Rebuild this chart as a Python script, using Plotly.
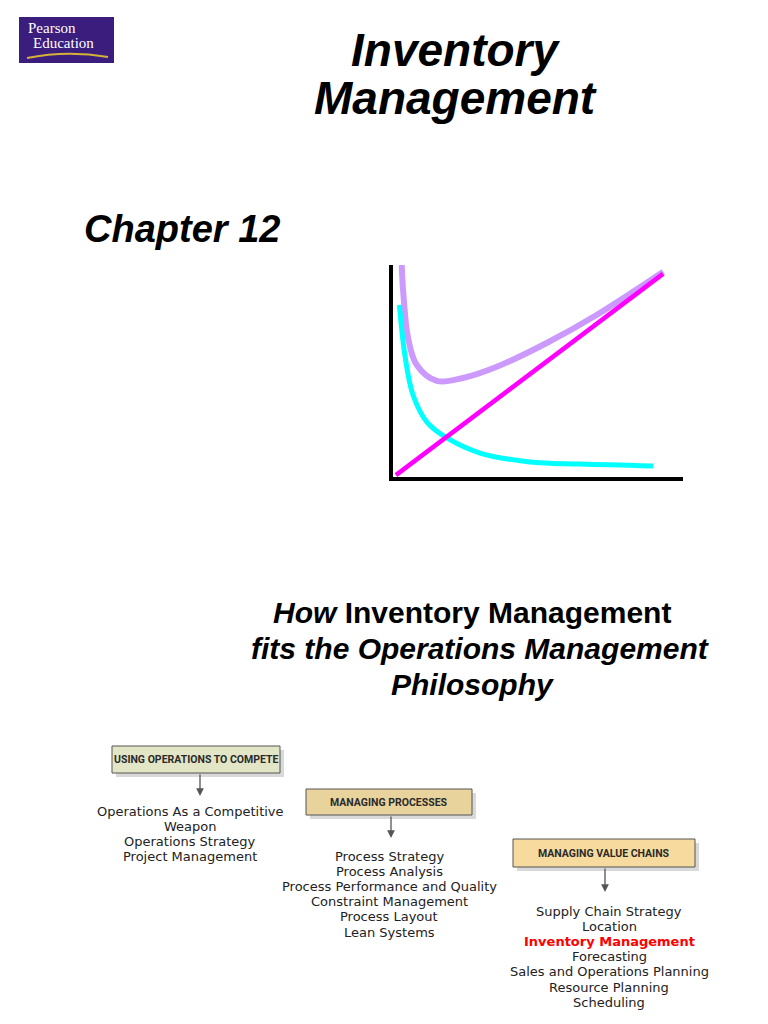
import plotly.graph_objects as go

W, H = 768, 1024
OFF = 8  # page body margin

# ---- data (cost curves, arbitrary units) ----
x_hold = [0.1, 9.31]
y_hold = [0.09, 9.58]
x_order = [0.22, 0.41, 0.69, 1.17, 1.86, 3.0, 4.72, 6.45, 8.97]
y_order = [8.11, 5.75, 3.87, 2.59, 1.84, 1.13, 0.71, 0.61, 0.52]
x_total = [0.30, 0.36, 0.52, 0.82, 1.51, 2.41, 3.58, 5.30, 7.02, 9.32]
y_total = [10.0, 8.58, 6.56, 5.28, 4.53, 4.67, 5.20, 6.32, 7.64, 9.68]

box_titles = ["USING OPERATIONS TO COMPETE", "MANAGING PROCESSES", "MANAGING VALUE CHAINS"]
box_items = [
    ["Operations As a Competitive", "Weapon", "Operations Strategy", "Project Management"],
    ["Process Strategy", "Process Analysis", "Process Performance and Quality",
     "Constraint Management", "Process Layout", "Lean Systems"],
    ["Supply Chain Strategy", "Location", "Inventory Management", "Forecasting",
     "Sales and Operations Planning", "Resource Planning", "Scheduling"],
]
highlight = "Inventory Management"


def px(x):
    return (x - OFF) / W


def py(y):
    return 1 - (y - OFF) / H


fig = go.Figure()
fig.add_trace(go.Scatter(x=x_total, y=y_total, mode="lines",
                         line=dict(color="#cc99ff", width=6, shape="spline"),
                         hoverinfo="skip"))
fig.add_trace(go.Scatter(x=x_order, y=y_order, mode="lines",
                         line=dict(color="#00ffff", width=5, shape="spline"),
                         hoverinfo="skip"))
fig.add_trace(go.Scatter(x=x_hold, y=y_hold, mode="lines",
                         line=dict(color="#ff00ff", width=4.5),
                         hoverinfo="skip"))

shapes = []
annos = []

# logo
shapes.append(dict(type="rect", xref="paper", yref="paper",
                   x0=px(19), x1=px(114), y0=py(63), y1=py(17),
                   fillcolor="#3a1d7c", line=dict(width=0), layer="below"))
shapes.append(dict(type="path", xref="paper", yref="paper",
                   path=f"M {px(27)} {py(58)} Q {px(67)} {py(50)} {px(108)} {py(57)}",
                   line=dict(color="#d4b23a", width=1.8)))
annos.append(dict(x=px(26), y=py(28), xref="paper", yref="paper", text="Pearson",
                  showarrow=False, xanchor="left", yanchor="middle",
                  font=dict(family="Liberation Serif", size=15, color="white")))
annos.append(dict(x=px(31), y=py(43), xref="paper", yref="paper", text="Education",
                  showarrow=False, xanchor="left", yanchor="middle",
                  font=dict(family="Liberation Serif", size=15, color="white")))

# titles
title_font = dict(family="Liberation Sans", size=46, color="black")
annos.append(dict(x=px(455), y=py(50), xref="paper", yref="paper", text="<b><i>Inventory</i></b>",
                  showarrow=False, xanchor="center", yanchor="middle", font=title_font))
annos.append(dict(x=px(455), y=py(98), xref="paper", yref="paper", text="<b><i>Management</i></b>",
                  showarrow=False, xanchor="center", yanchor="middle", font=title_font))
annos.append(dict(x=px(82), y=py(229), xref="paper", yref="paper", text="<b><i>Chapter 12</i></b>",
                  showarrow=False, xanchor="left", yanchor="middle",
                  font=dict(family="Liberation Sans", size=38, color="black")))

sub_font = dict(family="Liberation Sans", size=30, color="black")
for t, x, y in [("<b><i>How</i> Inventory Management</b>", 472, 612),
                ("<b><i>fits the Operations Management</i></b>", 480, 648),
                ("<b><i>Philosophy</i></b>", 472, 684)]:
    annos.append(dict(x=px(x), y=py(y), xref="paper", yref="paper", text=t,
                      showarrow=False, xanchor="center", yanchor="middle", font=sub_font))

# boxes
boxes = [
    dict(x0=112, x1=280, y0=746, y1=773, fill="#e3e6c6", list_x=190, list_y=811, arrow_x=200, arrow_end=796),
    dict(x0=306, x1=472, y0=789, y1=815, fill="#e9d39c", list_x=389, list_y=856, arrow_x=391, arrow_end=838),
    dict(x0=513, x1=695, y0=839, y1=867, fill="#f6da9e", list_x=609, list_y=911, arrow_x=605, arrow_end=892),
]
for b, title, items in zip(boxes, box_titles, box_items):
    shapes.append(dict(type="rect", xref="paper", yref="paper",
                       x0=px(b["x0"] + 4), x1=px(b["x1"] + 4), y0=py(b["y1"] + 4), y1=py(b["y0"] + 4),
                       fillcolor="#d9d9d9", line=dict(width=0)))
    shapes.append(dict(type="rect", xref="paper", yref="paper",
                       x0=px(b["x0"]), x1=px(b["x1"]), y0=py(b["y1"]), y1=py(b["y0"]),
                       fillcolor=b["fill"], line=dict(color="#555555", width=1)))
    annos.append(dict(x=px((b["x0"] + b["x1"]) / 2), y=py((b["y0"] + b["y1"]) / 2),
                      xref="paper", yref="paper", text=f"<b>{title}</b>", showarrow=False,
                      xanchor="center", yanchor="middle",
                      font=dict(family="Roboto", size=10.5, color="#2a2a2a")))
    annos.append(dict(x=px(b["arrow_x"]), y=py(b["arrow_end"]), xref="paper", yref="paper",
                      text="", showarrow=True, ax=0, ay=-(b["arrow_end"] - b["y1"]),
                      arrowhead=2, arrowsize=1.2, arrowwidth=1.3, arrowcolor="#555555"))
    for i, item in enumerate(items):
        hl = item == highlight
        annos.append(dict(x=px(b["list_x"]), y=py(b["list_y"] + i * 15.2), xref="paper", yref="paper",
                          text=f"<b>{item}</b>" if hl else item, showarrow=False,
                          xanchor="center", yanchor="middle",
                          font=dict(family="DejaVu Sans", size=13,
                                    color="#ff0000" if hl else "#222222")))

fig.update_layout(
    width=W, height=H, margin=dict(l=0, r=0, t=0, b=0),
    paper_bgcolor="white", plot_bgcolor="white", showlegend=False,
    xaxis=dict(domain=[px(393), px(683)], range=[0, 10], showgrid=False, zeroline=False,
               showticklabels=False, ticks="", showline=True, linecolor="black", linewidth=3.5),
    yaxis=dict(domain=[py(477), py(265)], range=[0, 10], showgrid=False, zeroline=False,
               showticklabels=False, ticks="", showline=True, linecolor="black", linewidth=3.5),
    shapes=shapes, annotations=annos,
)

fig.write_html("out.html")
